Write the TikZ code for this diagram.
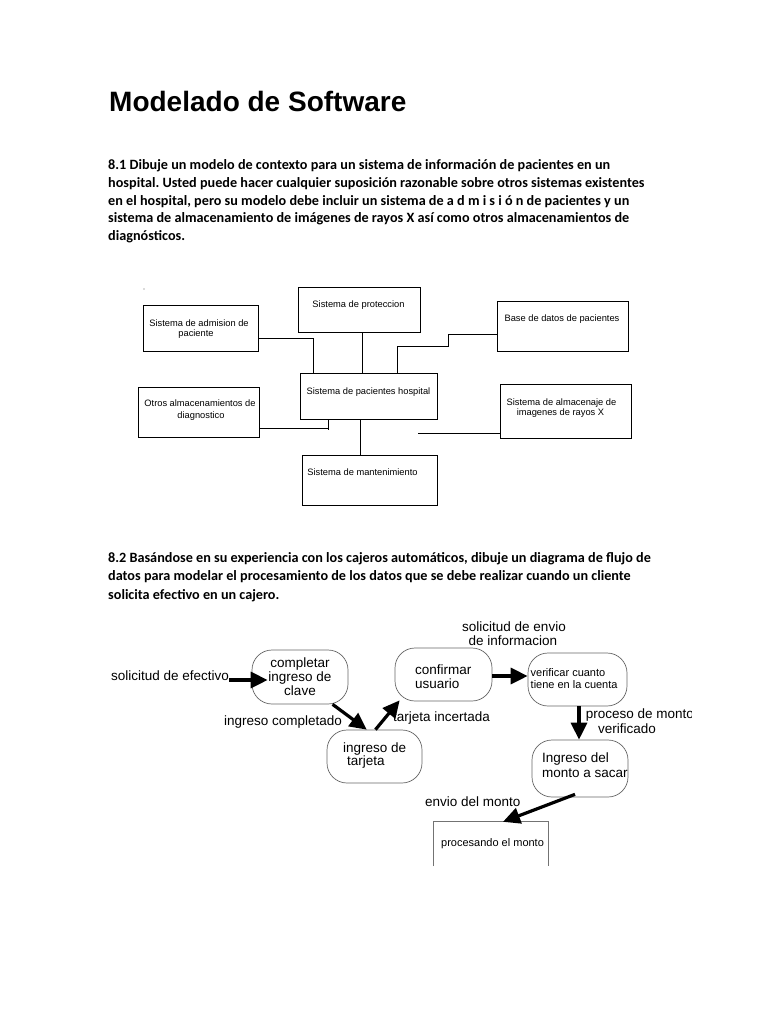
\documentclass[tikz,border=0pt]{standalone}
\usepackage{fontspec}
\setmainfont{Liberation Sans}
\newfontfamily\calibri{Carlito}
\usetikzlibrary{arrows.meta}
\frenchspacing
\begin{document}
\begin{tikzpicture}[x=1pt,y=-1pt,
  ttl/.style={font=\fontsize{28}{34}\selectfont\bfseries, anchor=base west, inner sep=0pt},
  para/.style={font=\calibri\bfseries\fontsize{14.2}{17.6}\selectfont, anchor=base west, inner sep=0pt},
  ctx/.style={draw=black, line width=0.9pt, inner sep=0pt},
  ctxt/.style={font=\fontsize{9.3}{11}\selectfont, anchor=base, inner sep=0pt},
  wire/.style={line width=0.9pt},
  proc/.style={draw=black!60, line width=0.7pt, rounded corners=20pt, inner sep=0pt},
  dfd/.style={font=\fontsize{13.5}{14.5}\selectfont, anchor=base west, inner sep=0pt},
  dfds/.style={font=\fontsize{11}{12}\selectfont, anchor=base west, inner sep=0pt},
  flow/.style={line width=3.2pt, -{Triangle[length=17pt,width=16pt]}},
  boxline/.style={draw=black!55, line width=0.7pt}]
\useasboundingbox (0,0) rectangle (768,1024);
\fill[white] (0,0) rectangle (768,1024);

% ---------- title and text 8.1 ----------
\node[ttl] (title) at (109,112) {Modelado de Software};
\node[para] (p1) at (108,170) {8.1 Dibuje un modelo de contexto para un sistema de información de pacientes en un};
\node[para] (p2) at (108,187.6) {hospital. Usted puede hacer cualquier suposición razonable sobre otros sistemas existentes};
\node[para] (p3) at (108,205.2) {en el hospital, pero su modelo debe incluir un sistema de a d m i s i ó n de pacientes y un};
\node[para] (p4) at (108,222.8) {sistema de almacenamiento de imágenes de rayos X así como otros almacenamientos de};
\node[para] (p5) at (108,240.4) {diagnósticos.};

% ---------- context model ----------
\fill[black!60] (144,289) circle (0.6);
\node[ctx, minimum width=115pt, minimum height=46pt] (adm) at (200.5,328) {};
\node[ctx, minimum width=122pt, minimum height=45pt] (prot) at (359,309.5) {};
\node[ctx, minimum width=131pt, minimum height=50pt] (base) at (562.5,326) {};
\node[ctx, minimum width=137pt, minimum height=46pt] (cen) at (368.5,396) {};
\node[ctx, minimum width=121pt, minimum height=50pt] (otr) at (198.5,412) {};
\node[ctx, minimum width=131pt, minimum height=54pt] (ray) at (565.5,411) {};
\node[ctx, minimum width=135pt, minimum height=50pt] (man) at (369.5,480) {};

\node[ctxt] (tadm1) at (199,326) {Sistema de admision de};
\node[ctxt] (tadm2) at (196,336) {paciente};
\node[ctxt] (tprot) at (358.5,307) {Sistema de proteccion};
\node[ctxt] (tbase) at (562,321) {Base de datos de pacientes};
\node[ctxt] (tcen) at (368.5,394) {Sistema de pacientes hospital};
\node[ctxt] (totr1) at (200,406) {Otros almacenamientos de};
\node[ctxt] (totr2) at (201,418) {diagnostico};
\node[ctxt] (tray1) at (561.5,405) {Sistema de almacenaje de};
\node[ctxt] (tray2) at (560.5,415) {imagenes de rayos X};
\node[ctxt] (tman) at (362.5,475) {Sistema de mantenimiento};

\coordinate (cadm) at ([xshift=14pt]cen.north west);
\draw[wire] ([yshift=-10pt]adm.east) -| (cadm);
\coordinate (cprot) at ([xshift=3pt]prot.south);
\draw[wire] (cprot) -- (cprot |- cen.north);
\coordinate (cbase) at ([xshift=98pt]cen.north west);
\draw[wire] ([yshift=-8pt]base.west) -- ++(-48,0) -- ++(0,12) -| (cbase);
\draw[wire] ([yshift=-16pt]otr.east) -- ++(70,0);
\draw[wire] ([xshift=29pt]cen.south west) -- ++(0,11);
\coordinate (cman) at ([xshift=-8.5pt]cen.south);
\draw[wire] (cman) -- (cman |- man.north);
\draw[wire] ([yshift=-22pt]ray.west) -- ++(-82,0);

% ---------- text 8.2 ----------
\node[para] (q1) at (108,562) {8.2 Basándose en su experiencia con los cajeros automáticos, dibuje un diagrama de flujo de};
\node[para] (q2) at (108,580.5) {datos para modelar el procesamiento de los datos que se debe realizar cuando un cliente};
\node[para] (q3) at (108,599) {solicita efectivo en un cajero.};

% ---------- data flow diagram ----------
\node[proc, minimum width=96pt, minimum height=54pt] (n1) at (300,677) {};
\node[proc, minimum width=97pt, minimum height=53pt] (n2) at (443.5,674.5) {};
\node[proc, minimum width=99pt, minimum height=53pt] (n3) at (577.5,679.5) {};
\node[proc, minimum width=95pt, minimum height=53pt] (n4) at (374.5,756.5) {};
\node[proc, minimum width=96pt, minimum height=57pt] (n5) at (580,768.5) {};
\node[inner sep=0pt, minimum width=114pt, minimum height=44pt] (pbox) at (491,844) {};
\draw[boxline] (pbox.south west) -- (pbox.north west) -- (pbox.north east) -- (pbox.south east);

\node[dfd, anchor=base] (t1a) at (300,667) {completar};
\node[dfd, anchor=base] (t1b) at (300,681) {ingreso de};
\node[dfd, anchor=base] (t1c) at (300,695) {clave};
\node[dfd] (t2a) at (415,674) {confirmar};
\node[dfd] (t2b) at (415,688) {usuario};
\node[dfds] (t3a) at (530.5,676) {verificar cuanto};
\node[dfds] (t3b) at (530.5,688) {tiene en la cuenta};
\node[dfd] (t4a) at (343,752) {ingreso de};
\node[dfd] (t4b) at (347,765) {tarjeta};
\begin{scope}
\clip (500,730) rectangle (627,800);
\node[dfd] (t5a) at (542,762) {Ingreso del};
\node[dfd] (t5b) at (542,777) {monto a sacar};
\end{scope}
\node[dfds] (t6) at (441,846.7) {procesando el monto};

\node[dfd] (sol) at (111,680) {solicitud de efectivo};
\node[dfd] (lcomp) at (224,725) {ingreso completado};
\node[dfd] (ltarj) at (393,721) {tarjeta incertada};
\node[dfd, anchor=base] (lenv1) at (514,631.7) {solicitud de envio};
\node[dfd, anchor=base] (lenv2) at (513,645.7) {de informacion};
\begin{scope}
\clip (570,700) rectangle (691,740);
\node[dfd] (lproc1) at (585.7,718.3) {proceso de monto};
\node[dfd] (lproc2) at (598,733) {verificado};
\end{scope}
\node[dfd] (lmonto) at (425,806.7) {envio del monto};

\coordinate (n1in) at ([xshift=16pt]n1.west);
\draw[flow] (sol.base east) -- (sol.base east -| n1in);
\draw[flow] (n1.-40) -- (n4.106);
\coordinate (n2in) at ([shift={(5pt,1pt)}]n2.south west);
\draw[flow] (n4.88) -- (n2in);
\coordinate (a4s) at ([yshift=-1.5pt]n2.east);
\draw[flow] (a4s) -- (a4s -| n3.west);
\coordinate (a5s) at ([xshift=1.5pt]n3.south);
\draw[flow] (a5s) -- (a5s |- n5.north);
\coordinate (a6s) at ([shift={(-5pt,3pt)}]n5.south);
\coordinate (a6e) at ([xshift=12pt]pbox.north);
\draw[flow] (a6s) -- (a6e);
\end{tikzpicture}
\end{document}
